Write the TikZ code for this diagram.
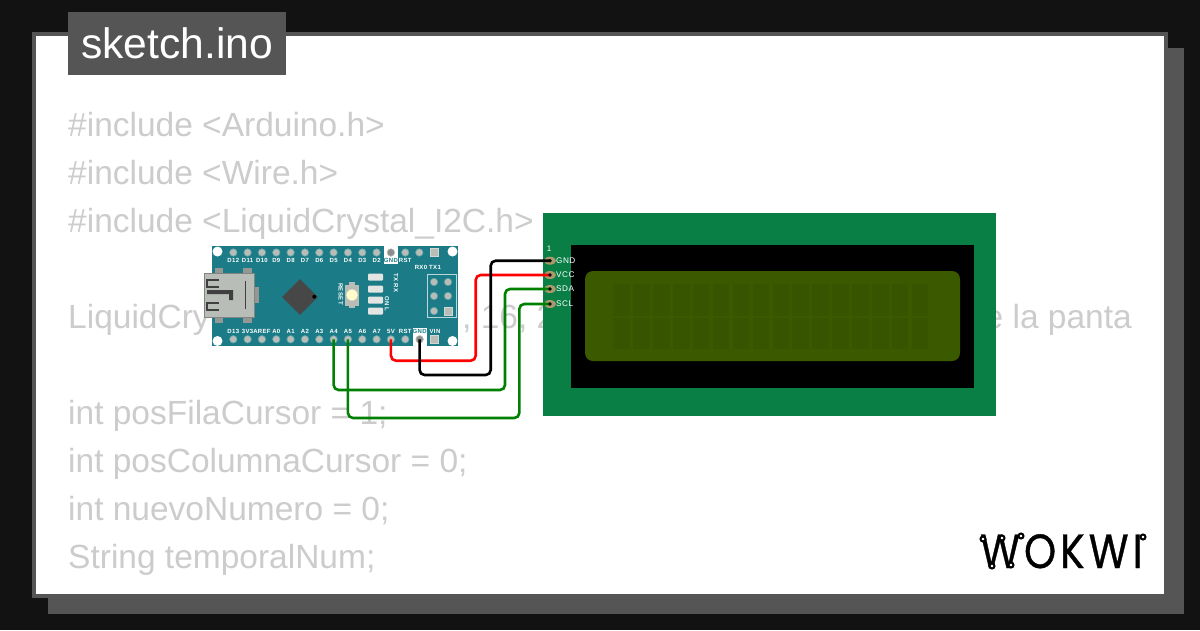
\documentclass[tikz,border=0pt]{standalone}
\usepackage{fontspec}
\setmainfont{Liberation Sans}
\newfontfamily\logofont[LetterSpace=10, FakeBold=0.8]{Poppins}
\usetikzlibrary{shapes.geometric}
\definecolor{pageDark}{HTML}{121212}
\definecolor{frameGray}{HTML}{555555}
\definecolor{codeGray}{HTML}{CCCCCC}
\definecolor{nanoTeal}{HTML}{1B7B86}
\definecolor{pinGray}{HTML}{B9BDB8}
\definecolor{lcdGreen}{HTML}{0A7F45}
\definecolor{lcdScreen}{HTML}{3B5A00}
\definecolor{lcdCell}{HTML}{375500}
\definecolor{padTan}{HTML}{A89A6A}
\definecolor{wireGreen}{HTML}{008000}
\tikzset{
  % Specifications for style of nodes:
       codeLine/.style = {anchor=base west, inner sep=0pt, text=codeGray,
                          font=\fontsize{33.5}{40}\selectfont},
        nanoPin/.style = {circle, fill=pinGray, draw=nanoTeal!70!white,
                          line width=.6pt, minimum size=7.5pt, inner sep=0pt},
     nanoSquare/.style = {rectangle, fill=pinGray, draw=pinGray!60!white,
                          line width=.8pt, minimum size=8pt, inner sep=0pt},
       nanoText/.style = {inner sep=0pt, text=white,
                          font=\fontsize{6}{6}\selectfont\bfseries\addfontfeature{LetterSpace=6}},
        nanoLed/.style = {rectangle, rounded corners=1pt, fill=pinGray!40!white,
                          minimum width=15pt, minimum height=7pt, inner sep=0pt},
         lcdPad/.style = {ellipse, fill=padTan, minimum width=12pt,
                          minimum height=8pt, inner sep=0pt},
        lcdText/.style = {anchor=west, inner sep=0pt, text=white,
                          font=\fontsize{8.2}{8}\selectfont\addfontfeature{LetterSpace=6}},
       wirePath/.style = {line width=2.6pt, rounded corners=5pt},
        logoDot/.style = {circle, draw=black, fill=white, line width=2pt,
                          minimum size=5pt, inner sep=0pt},
}
\begin{document}
\begin{tikzpicture}[x=1pt, y=-1pt]
    \useasboundingbox (0,0) rectangle (1200,630);
    % Page, shadow and card
    \fill[pageDark] (0,0) rectangle (1200,630);
    \fill[frameGray] (48,48) rectangle (1184,614);
    \fill[white, draw=frameGray, line width=4pt] (34,34) rectangle (1166,596);
    \node (tabBox) [fill=frameGray, minimum width=218pt, minimum height=63pt,
                    inner sep=0pt] at (177,43.5) {};
    \node (tabText) [text=white, inner sep=0pt, anchor=base,
                     font=\fontsize{42.6}{48}\selectfont] at (177,58) {sketch.ino};

    % Code behind the parts
    \node (code1) [codeLine] at (68,136) {\#include <Arduino.h>};
    \node (code2) [codeLine] at (68,184) {\#include <Wire.h>};
    \node (code3) [codeLine] at (68,232) {\#include <LiquidCrystal\_I2C.h>};
    \node (code4a) [codeLine] at (68,328) {LiquidCry};
    \node (code4b) [codeLine] at (462,328) {, 16, 2};
    \node (code4c) [codeLine, anchor=base east] at (1132,328) {e la panta};
    \node (code5) [codeLine] at (68,424) {int posFilaCursor = 1;};
    \node (code6) [codeLine] at (68,472) {int posColumnaCursor = 0;};
    \node (code7) [codeLine] at (68,520) {int nuevoNumero = 0;};
    \node (code8) [codeLine] at (68,568) {String temporalNum;};

    % Nano board
    \fill[nanoTeal] (212,246) rectangle (458,346);
    \foreach \x/\y in {217.5/251.5, 452.5/251.5, 217.5/341, 452.5/341}
        \fill[white] (\x,\y) circle (5);
    \fill[white] (384,246) rectangle (398,264);
    \fill[white] (413,328) rectangle (427,346);
    \foreach \i/\name in {0/D12, 1/D11, 2/D10, 3/D9, 4/D8, 5/D7, 6/D6, 7/D5,
                          8/D4, 9/D3, 10/D2, 12/RST} {
        \node (topPin\name) [nanoPin] at (233.3+14.33*\i,252.5) {};
        \node (topText\name) [nanoText] at (233.3+14.33*\i,260.7) {\name};
    }
    \node (topPinGND) [nanoPin, fill=black!45, draw=pinGray] at (390.9,252.5) {};
    \node (topTextGND) [nanoText, text=nanoTeal] at (390.9,260.7) {GND};
    \node (topPinRX) [nanoPin] at (419.3,252.5) {};
    \node (topPinTX) [nanoSquare] at (434,252.5) {};
    \node (topTextRX) [nanoText] at (421,267) {RX0};
    \node (topTextTX) [nanoText] at (435,267) {TX1};
    \foreach \i/\name in {0/D13, 1/3V3, 2/AREF, 3/A0, 4/A1, 5/A2, 6/A3, 7/A4,
                          8/A5, 9/A6, 10/A7, 11/5V, 12/RST} {
        \node (botPin\name) [nanoPin] at (233.3+14.33*\i,339.3) {};
        \node (botText\name) [nanoText] at (233.3+14.33*\i,331.7) {\name};
    }
    \node (botPinGND) [nanoPin, fill=black!45, draw=pinGray] at (419.6,339.3) {};
    \node (botTextGND) [nanoText, text=nanoTeal] at (419.6,331.7) {GND};
    \node (botPinVIN) [nanoSquare] at (434,339.3) {};
    \node (botTextVIN) [nanoText] at (435,331.7) {VIN};

    % USB socket
    \fill[pinGray!80!black] (215,267.5) rectangle (223,273);
    \fill[pinGray!80!black] (243,267.5) rectangle (252,273);
    \fill[pinGray!80!black] (215,317) rectangle (223,322.5);
    \fill[pinGray!80!black] (243,317) rectangle (252,322.5);
    \fill[pinGray!80!black] (254,287) rectangle (259,303);
    \node (usbBody) [rectangle, fill=pinGray, draw=pinGray!70!black, line width=.5pt,
                     minimum width=50pt, minimum height=44pt, inner sep=0pt] at (229,295) {};
    \draw[line width=1.5pt, black!75] (245.5,281) -- (245.5,309);
    \draw[line width=1.3pt, black!75] (219,280) -- (207,280) -- (207,287) -- (219,287);
    \draw[line width=1.3pt, black!75] (219,303) -- (207,303) -- (207,310) -- (219,310);
    \fill[black!75] (207,290) -- (233,290) -- (233,300) -- (229,300) -- (229,294) -- (207,294) -- cycle;

    % Chip, button, leds, header
    \node (chipBody) [diamond, fill=black!72, minimum size=36pt, inner sep=0pt] at (300,297) {};
    \fill[black] (314.3,296.7) circle (2);
    \fill[pinGray] (349,282) rectangle (355,308);
    \node (resetBody) [rectangle, fill=pinGray, minimum width=14pt, minimum height=21pt,
                       inner sep=0pt] at (352,295) {};
    \node (resetCap) [circle, fill=yellow!20!white, draw=black!30, line width=.4pt,
                      minimum size=12pt, inner sep=0pt] at (352,295) {};
    \node (resetText) [nanoText, rotate=-90] at (340.7,294) {RESET};
    \foreach \y [count=\n] in {277,289,300,311}
        \node (led\n) [nanoLed] at (375.5,\y) {};
    \node (ledTextA) [nanoText, rotate=-90] at (396,283) {TX RX};
    \node (ledTextB) [nanoText, rotate=-90] at (387,304) {ON\,\,L};
    \draw[white!70!nanoTeal, line width=.7pt] (427,274) rectangle (456,317);
    \foreach \x/\y [count=\n] in {434/282, 448/282, 434/296, 448/296, 434/311}
        \node (icsp\n) [nanoPin] at (\x,\y) {};
    \node (icsp6) [nanoSquare] at (448,311) {};

    % LCD module
    \fill[lcdGreen] (543,213) rectangle (996,416);
    \fill[black] (571,245) rectangle (974,388);
    \fill[lcdScreen, rounded corners=8pt] (585,271) rectangle (960,361);
    \foreach \c in {0,...,15} {
        \fill[lcdCell] (613.3+19.9*\c,284) rectangle ++(16.5,31.7);
        \fill[lcdCell] (613.3+19.9*\c,317.7) rectangle ++(16.5,31.3);
    }
    \node (lcdOne) [inner sep=0pt, text=white, font=\fontsize{8}{8}\selectfont] at (549,249) {1};
    \foreach \y/\name in {260.7/GND, 275/VCC, 289/SDA, 304/SCL} {
        \node (pad\name) [lcdPad] at (550,\y) {};
        \node (padText\name) [lcdText] at (556,\y) {\name};
    }

    % Bends of the wires
    \coordinate (bendSDA) at (505,390);
    \coordinate (bendSCL) at (519.3,418);
    \coordinate (bendVCC) at (475.7,360.7);
    \coordinate (bendGND) at (490.7,375);
    \draw[wirePath, wireGreen] (botPinA4.center) |- (bendSDA) |- (padSDA.center);
    \draw[wirePath, wireGreen] (botPinA5.center) |- (bendSCL) |- (padSCL.center);
    \draw[wirePath, red]       (botPin5V.center) |- (bendVCC) |- (padVCC.center);
    \draw[wirePath, black]     (botPinGND.center) |- (bendGND) |- (padGND.center);
    \foreach \name in {GND, VCC, SDA, SCL}
        \fill[black] (pad\name.center) circle (1.8);

    % Logo
    \node (logoText) [inner sep=0pt, text=black, anchor=base west, xscale=.85,
                      font=\fontsize{48}{50}\selectfont\logofont] at (980,568) {WOKWI};
    \foreach \x/\y [count=\n] in {983/539, 1002/538, 1021/536, 992/566, 1011/565, 1143/537}
        \node (logoDot\n) [logoDot] at (\x,\y) {};
\end{tikzpicture}
\end{document}
